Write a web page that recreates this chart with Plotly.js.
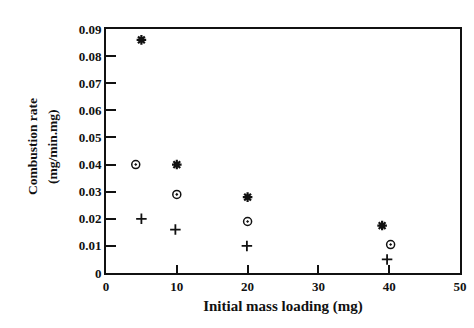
<!DOCTYPE html>
<html><head><meta charset="utf-8">
<script src="https://cdn.plot.ly/plotly-3.0.1.min.js"></script>
<style>html,body{margin:0;padding:0;background:#fff}#c{width:474px;height:328px}</style>
</head><body><div id="c"></div>
<script>
const starX = [5, 10, 20, 39];
const starY = [0.086, 0.040, 0.028, 0.0175];
const circX = [4.2, 10, 20, 40.2];
const circY = [0.040, 0.029, 0.019, 0.0105];
const plusX = [5, 9.8, 19.9, 39.7];
const plusY = [0.020, 0.016, 0.010, 0.005];
const xTicks = [0, 10, 20, 30, 40, 50];
const yTicks = [0, 0.01, 0.02, 0.03, 0.04, 0.05, 0.06, 0.07, 0.08, 0.09];
const yTickText = ['0', '0.01', '0.02', '0.03', '0.04', '0.05', '0.06', '0.07', '0.08', '0.09'];
const xTitle = 'Initial mass loading (mg)';
const yTitle1 = 'Combustion rate';
const yTitle2 = '(mg/min.mg)';

const fam = 'Liberation Serif, Times New Roman, serif';
const ink = '#111';
const traces = [
  {x: starX, y: starY, mode: 'markers', type: 'scatter',
   marker: {symbol: 'asterisk-open', size: 8, color: ink, line: {width: 2.2, color: ink}}},
  {x: circX, y: circY, mode: 'markers', type: 'scatter',
   marker: {symbol: 'circle-open-dot', size: 8, color: ink, line: {width: 1.5, color: ink}}},
  {x: plusX, y: plusY, mode: 'markers', type: 'scatter',
   marker: {symbol: 'cross-thin-open', size: 7.5, color: ink, line: {width: 1.8, color: ink}}}
];
const tf = {family: fam, size: 13, color: ink, weight: 'bold'};
const layout = {
  width: 474, height: 328, showlegend: false,
  margin: {l: 106, r: 14, t: 29, b: 55},
  paper_bgcolor: '#fff', plot_bgcolor: '#fff',
  font: {family: fam, size: 13, color: ink},
  xaxis: {range: [0, 50], tickvals: xTicks, ticktext: xTicks.map(String),
    showline: true, mirror: true, linewidth: 2, linecolor: ink,
    ticks: 'inside', ticklen: 8, tickwidth: 2, tickcolor: ink,
    showgrid: false, zeroline: false, tickfont: tf,
    title: {text: xTitle, standoff: 8,
      font: {family: fam, size: 15, color: ink, weight: 'bold'}}},
  yaxis: {range: [0, 0.09], tickvals: yTicks, ticktext: yTickText,
    showline: true, mirror: true, linewidth: 2, linecolor: ink,
    ticks: 'inside', ticklen: 10, tickwidth: 2, tickcolor: ink,
    showgrid: false, zeroline: false, tickfont: tf},
  annotations: [
    {text: yTitle1, xref: 'paper', yref: 'paper', x: -0.209, y: 0.516,
     xanchor: 'center', yanchor: 'middle', textangle: -90, showarrow: false,
     font: {family: fam, size: 13.5, color: ink, weight: 'bold'}},
    {text: yTitle2, xref: 'paper', yref: 'paper', x: -0.1525, y: 0.516,
     xanchor: 'center', yanchor: 'middle', textangle: -90, showarrow: false,
     font: {family: fam, size: 13.5, color: ink, weight: 'bold'}}
  ]
};
Plotly.newPlot('c', traces, layout, {staticPlot: true, displayModeBar: false});
</script></body></html>
